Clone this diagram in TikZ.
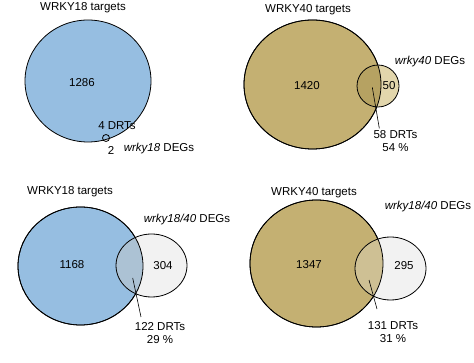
\documentclass[tikz,border=0pt]{standalone}
\usepackage{fontspec}
\setmainfont{Liberation Sans}

\definecolor{wblue}{RGB}{150,190,225}
\definecolor{wbluemix}{RGB}{172,194,212}
\definecolor{wtan}{RGB}{196,176,114}
\definecolor{wtanlight}{RGB}{226,214,172}
\definecolor{wtandark}{RGB}{182,162,98}
\definecolor{wtanmix}{RGB}{206,192,148}
\definecolor{wgray}{RGB}{242,242,242}

\begin{document}
\begin{tikzpicture}[x = 1pt, y = -1pt, font = \fontsize{11.5}{12.7}\selectfont,
	venn/.style = {draw, thick},
	lead/.style = {semithick}]

	% Canvas
	
	\useasboundingbox (0, 0) rectangle (474, 363);

	% WRKY18 targets vs wrky18 DEGs
	
	\filldraw [venn, fill = wblue] (88, 81) ellipse [x radius = 63, y radius = 61];
	\draw [thick] (106, 138) circle (3.5);
	
	\node (t18a) at (83, 8) {WRKY18 targets};
	\node (n1286) at (82, 83) {1286};
	\node (drt4) at (117, 126) {4 DRTs};
	\node (n2) at (111, 150) {2};
	\node (deg18) at (159, 149) {\textit{wrky18} DEGs};

	% WRKY40 targets vs wrky40 DEGs
	
	\filldraw [venn, fill = wtan] (312.5, 84.5) ellipse [x radius = 68.5, y radius = 64.5];
	\fill [wtanlight] (378, 86) circle (21);
	\begin{scope}
		\clip (312.5, 84.5) ellipse [x radius = 68.5, y radius = 64.5];
		\fill [wtandark] (378, 86) circle (21);
	\end{scope}
	\draw [venn] (312.5, 84.5) ellipse [x radius = 68.5, y radius = 64.5];
	\draw [venn] (378, 86) circle (21);
	
	\node (t40a) at (308, 10) {WRKY40 targets};
	\node (n1420) at (307, 86) {1420};
	\node (n50) at (389, 86) {50};
	\node (deg40) at (430, 62) {\textit{wrky40} DEGs};
	\node [align = center] (drt58) at (395.5, 141.3) {58 DRTs\\54 \%};
	
	\coordinate (in58) at (372.3, 87.3);
	\coordinate (tip58) at (379.3, 128.3);
	\draw [lead] (in58) -- (tip58);

	% WRKY18 targets vs wrky18/40 DEGs
	
	\filldraw [venn, fill = wblue] (80.5, 266) ellipse [x radius = 62.5, y radius = 59];
	\fill [wgray] (151.5, 265.5) ellipse [x radius = 35.5, y radius = 31.5];
	\begin{scope}
		\clip (80.5, 266) ellipse [x radius = 62.5, y radius = 59];
		\fill [wbluemix] (151.5, 265.5) ellipse [x radius = 35.5, y radius = 31.5];
	\end{scope}
	\draw [venn] (80.5, 266) ellipse [x radius = 62.5, y radius = 59];
	\draw [venn] (151.5, 265.5) ellipse [x radius = 35.5, y radius = 31.5];
	
	\node (t18b) at (70, 192) {WRKY18 targets};
	\node (n1168) at (72, 265) {1168};
	\node (n304) at (163, 266) {304};
	\node (deg1840a) at (187, 220) {\textit{wrky18/40} DEGs};
	\node [align = center] (drt122) at (160, 333) {122 DRTs\\29 \%};
	
	\coordinate (in122) at (132.7, 278);
	\coordinate (tip122) at (141, 317);
	\draw [lead] (in122) -- (tip122);

	% WRKY40 targets vs wrky18/40 DEGs
	
	\filldraw [venn, fill = wtan] (316.5, 263.5) ellipse [x radius = 66.5, y radius = 63.5];
	\fill [wgray] (390.5, 268.5) ellipse [x radius = 35.5, y radius = 31.5];
	\begin{scope}
		\clip (316.5, 263.5) ellipse [x radius = 66.5, y radius = 63.5];
		\fill [wtanmix] (390.5, 268.5) ellipse [x radius = 35.5, y radius = 31.5];
	\end{scope}
	\draw [venn] (316.5, 263.5) ellipse [x radius = 66.5, y radius = 63.5];
	\draw [venn] (390.5, 268.5) ellipse [x radius = 35.5, y radius = 31.5];
	
	\node (t40b) at (314, 193) {WRKY40 targets};
	\node (n1347) at (309, 265) {1347};
	\node (n295) at (404, 266) {295};
	\node (deg1840b) at (428, 207) {\textit{wrky18/40} DEGs};
	\node [align = center] (drt131) at (393, 331.7) {131 DRTs\\31 \%};
	
	\coordinate (in131) at (369, 280);
	\coordinate (tip131) at (377, 309);
	\draw [lead] (in131) -- (tip131);

\end{tikzpicture}
\end{document}
